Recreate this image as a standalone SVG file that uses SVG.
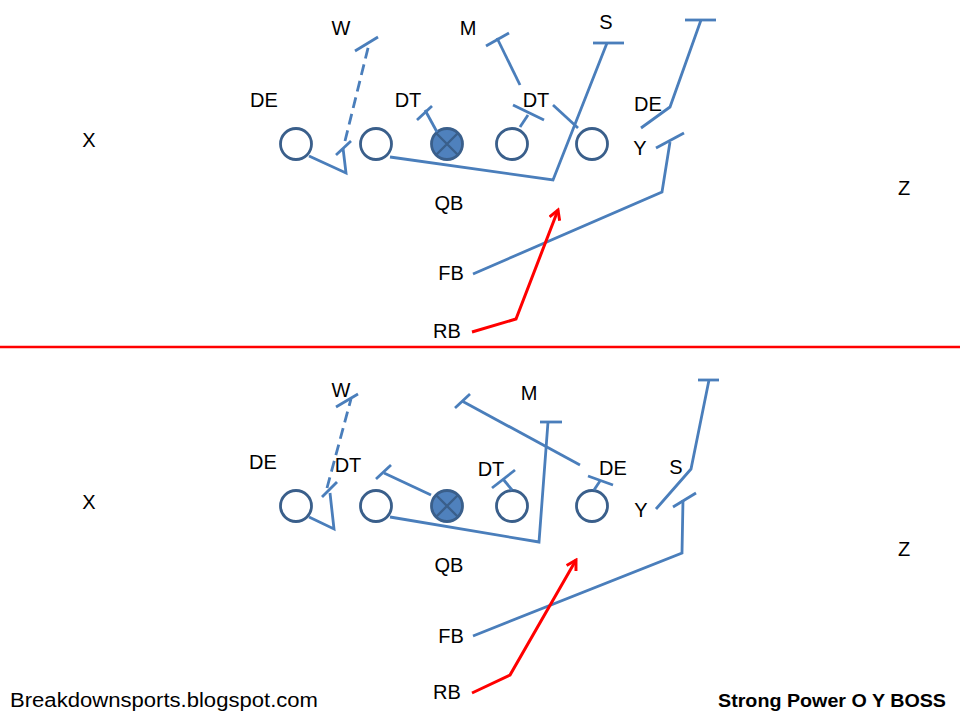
<svg xmlns="http://www.w3.org/2000/svg" width="960" height="720" viewBox="0 0 960 720">
<defs>
<style>
.t{font-family:"Liberation Sans",Arial,sans-serif;font-size:20px;fill:#000;text-anchor:middle}
.l{fill:none;stroke:#4A7EBB;stroke-width:2.8;stroke-linecap:butt}
.d{stroke-dasharray:11,6}
.c{fill:#fff;stroke:#3A5F8B;stroke-width:2.8}
.f{fill:#4F81BD;stroke:#3A5F8B;stroke-width:2.8}
.r{fill:none;stroke:#FF0000;stroke-width:3}
</style>
<marker id="ah" viewBox="0 0 10 10" refX="8" refY="5" markerWidth="4.5" markerHeight="4.5" orient="auto" markerUnits="strokeWidth">
<path d="M1,1 L8,5 L1,9" fill="none" stroke="#FF0000" stroke-width="2.2"/>
</marker>
</defs>
<rect width="960" height="720" fill="#fff"/>

<!-- TOP -->
<g id="top-players">
<g id="t-ol1"><circle class="c" cx="296" cy="144" r="15.5"/></g>
<g id="t-ol2"><circle class="c" cx="376" cy="144" r="15.5"/></g>
<g id="t-c"><circle class="f" cx="447" cy="144" r="15.5"/><path d="M436,133 L458,155 M458,133 L436,155" stroke="#3A5F8B" stroke-width="2.4"/></g>
<g id="t-ol4"><circle class="c" cx="512" cy="144" r="15.5"/></g>
<g id="t-ol5"><circle class="c" cx="592" cy="144" r="15.5"/></g>
</g>
<g id="top-labels">
<text class="t" x="341" y="35">W</text>
<text class="t" x="468" y="35">M</text>
<text class="t" x="606" y="29">S</text>
<text class="t" x="264" y="107">DE</text>
<text class="t" x="408" y="107">DT</text>
<text class="t" x="536" y="107">DT</text>
<text class="t" x="648" y="111">DE</text>
<text class="t" x="640" y="155">Y</text>
<text class="t" x="89" y="147">X</text>
<text class="t" x="904" y="195">Z</text>
<text class="t" x="449" y="210">QB</text>
<text class="t" x="451" y="280">FB</text>
<text class="t" x="447" y="338">RB</text>
</g>
<g id="top-connectors">
<path class="l" d="M309,156 L346,173 L343,148"/>
<path class="l" d="M336,155 L351,141"/>
<path class="l d" d="M345,141 L369,44"/>
<path class="l" d="M355,51 L378,37"/>
<path class="l" d="M520,85 L497,38"/>
<path class="l" d="M486,46 L509,33"/>
<path class="l" d="M437,132 L425,110"/>
<path class="l" d="M417,120 L432,106"/>
<path class="l" d="M520,127 L528,115"/>
<path class="l" d="M513,105 L544,120"/>
<path class="l" d="M553,105 L578,128"/>
<path class="l" d="M390,157 L553,180 L607,43"/>
<path class="l" d="M593,43 L624,43"/>
<path class="l" d="M641,128 L670,107 L701,20"/>
<path class="l" d="M685,20 L716,20"/>
<path class="l" d="M656,148 L684,133"/>
<path class="l" d="M670,142 L662,192 L473,274"/>
<path class="r" d="M472,332 L516,319 L558,210" marker-end="url(#ah)"/>
</g>

<g id="divider"><path d="M0,347 L960,347" stroke="#FF0000" stroke-width="2.6"/></g>

<!-- BOTTOM -->
<g id="bottom-players">
<g id="b-ol1"><circle class="c" cx="296" cy="506" r="15.5"/></g>
<g id="b-ol2"><circle class="c" cx="376" cy="506" r="15.5"/></g>
<g id="b-c"><circle class="f" cx="447" cy="506" r="15.5"/><path d="M436,495 L458,517 M458,495 L436,517" stroke="#3A5F8B" stroke-width="2.4"/></g>
<g id="b-ol4"><circle class="c" cx="512" cy="506" r="15.5"/></g>
<g id="b-ol5"><circle class="c" cx="592" cy="506" r="15.5"/></g>
</g>
<g id="bottom-labels">
<text class="t" x="341" y="397">W</text>
<text class="t" x="529" y="400">M</text>
<text class="t" x="263" y="469">DE</text>
<text class="t" x="348" y="472">DT</text>
<text class="t" x="491" y="476">DT</text>
<text class="t" x="613" y="475">DE</text>
<text class="t" x="676" y="474">S</text>
<text class="t" x="641" y="517">Y</text>
<text class="t" x="89" y="509">X</text>
<text class="t" x="904" y="556">Z</text>
<text class="t" x="449" y="572">QB</text>
<text class="t" x="451" y="643">FB</text>
<text class="t" x="447" y="699">RB</text>
</g>
<g id="bottom-connectors">
<path class="l" d="M309,517 L334,529 L330,493"/>
<path class="l" d="M322,497 L337,482"/>
<path class="l d" d="M327,488 L351,399"/>
<path class="l" d="M336,407 L358,394"/>
<path class="l" d="M376,479 L391,465"/>
<path class="l" d="M384,473 L431,495"/>
<path class="l" d="M390,517 L539,542 L548,422"/>
<path class="l" d="M540,422 L562,422"/>
<path class="l" d="M455,408 L470,394"/>
<path class="l" d="M462,401 L580,465"/>
<path class="l" d="M492,488 L515,470"/>
<path class="l" d="M503,479 L512,490"/>
<path class="l" d="M588,476 L613,485"/>
<path class="l" d="M600,481 L594,490"/>
<path class="l" d="M656,509 L691,469 L709,380"/>
<path class="l" d="M698,380 L719,380"/>
<path class="l" d="M673,507 L696,493"/>
<path class="l" d="M683,500 L682,553 L473,636"/>
<path class="r" d="M472,693 L510,675 L576,560" marker-end="url(#ah)"/>
</g>

<g id="footer">
<text x="10" y="707" font-family="Liberation Sans, Arial, sans-serif" font-size="20" textLength="308" lengthAdjust="spacingAndGlyphs">Breakdownsports.blogspot.com</text>
<text x="946" y="707" font-family="Liberation Sans, Arial, sans-serif" font-size="19" font-weight="bold" text-anchor="end" textLength="228" lengthAdjust="spacingAndGlyphs">Strong Power O Y BOSS</text>
</g>
</svg>
